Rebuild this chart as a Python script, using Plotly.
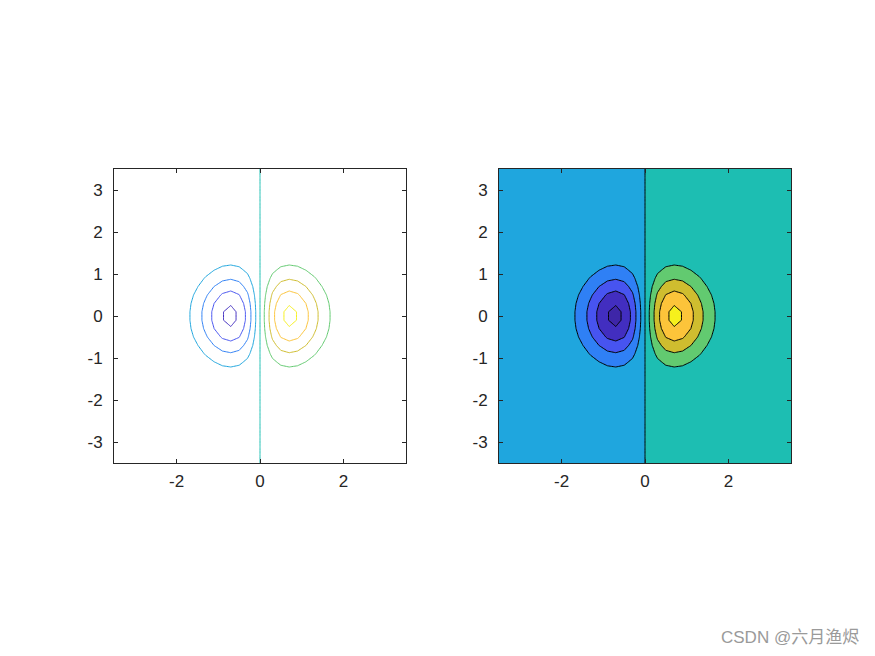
import plotly.graph_objects as go

# Grid coordinates (x = y = -3.5:0.2:3.5)
x_vals = [-3.5, -3.3, -3.1, -2.9, -2.7, -2.5, -2.3, -2.1, -1.9, -1.7, -1.5, -1.3, -1.1, -0.9, -0.7, -0.5,
          -0.3, -0.1, 0.1, 0.3, 0.5, 0.7, 0.9, 1.1, 1.3, 1.5, 1.7, 1.9, 2.1, 2.3, 2.5, 2.7, 2.9, 3.1,
          3.3, 3.5]
y_vals = list(x_vals)

# Separable profiles of the surface: z[i][j] = row_profile[i] * col_profile[j]
col_profile = [-0.0000168, -0.0000614, -0.000208, -0.000646, -0.001842, -0.004826, -0.011597, -0.025526,
               -0.051399, -0.094479, -0.158099, -0.239876, -0.328017, -0.400372, -0.428838, -0.389400,
               -0.274179, -0.099005, 0.099005, 0.274179, 0.389400, 0.428838, 0.400372, 0.328017,
               0.239876, 0.158099, 0.094479, 0.051399, 0.025526, 0.011597, 0.004826, 0.001842,
               0.000646, 0.000208, 0.0000614, 0.0000168]
row_profile = [0.0000048, 0.0000186, 0.0000670, 0.000222, 0.000682, 0.001930, 0.005042, 0.012155,
               0.027052, 0.055576, 0.105399, 0.184520, 0.298197, 0.444858, 0.612626, 0.778801,
               0.913931, 0.990050, 0.990050, 0.913931, 0.778801, 0.612626, 0.444858, 0.298197,
               0.184520, 0.105399, 0.055576, 0.027052, 0.012155, 0.005042, 0.001930, 0.000682,
               0.000222, 0.0000670, 0.0000186, 0.0000048]

z_vals = [[r * c for c in col_profile] for r in row_profile]

levels = [-0.4, -0.3, -0.2, -0.1, 0.0, 0.1, 0.2, 0.3, 0.4]
line_colors = ["#422EC0", "#4754F0", "#2F80F5", "#1FA6DE", "#1DBEB2",
               "#62CA70", "#CFBD2F", "#FCC43A", "#F6F01C"]
# band colors: below first level, then one per level (lower bound colour)
band_colors = ["#3E26A8"] + line_colors

tick_font = dict(family="Liberation Sans, Arial, sans-serif", size=17, color="#262626")

fig = go.Figure()

# Left: contour lines
for lv, col in zip(levels, line_colors):
    fig.add_trace(go.Contour(
        x=x_vals, y=y_vals, z=z_vals,
        autocontour=False,
        contours=dict(start=lv, end=lv, size=0.1, coloring="none"),
        line=dict(color=col, width=1, smoothing=0),
        showscale=False, hoverinfo="skip",
        xaxis="x", yaxis="y",
    ))

# Right: filled contours
n = len(band_colors)
cscale = [[k / (n - 1), c] for k, c in enumerate(band_colors)]
fig.add_trace(go.Contour(
    x=x_vals, y=y_vals, z=z_vals,
    autocontour=False,
    contours=dict(start=levels[0], end=levels[-1], size=0.1, coloring="fill"),
    colorscale=cscale,
    line=dict(color="black", width=1, smoothing=0),
    showscale=False, hoverinfo="skip",
    xaxis="x2", yaxis="y2",
))

axis_common = dict(
    range=[-3.5, 3.5], showgrid=False, zeroline=False, automargin=False,
    showline=True, linecolor="#262626", linewidth=1, mirror="allticks",
    ticks="inside", ticklen=4, tickcolor="#262626", tickfont=tick_font,
)

OFF = 8  # page body margin
W, H = 875, 656
y0 = 1 - (463 - OFF) / H
y1 = 1 - (169 - OFF) / H
fig.update_layout(
    width=W, height=H,
    margin=dict(l=0, r=0, t=0, b=0, autoexpand=False),
    paper_bgcolor="white", plot_bgcolor="white",
    showlegend=False,
    xaxis=dict(domain=[(114 - OFF) / W, (406 - OFF) / W], anchor="y", tickvals=[-2, 0, 2],
               ticktext=["-2", "0", "2"], ticklabelstandoff=3, **axis_common),
    yaxis=dict(domain=[y0, y1], anchor="x", tickvals=[-3, -2, -1, 0, 1, 2, 3],
               ticktext=["-3", "-2", "-1", "0", "1", "2", "3"], ticklabelstandoff=7, **axis_common),
    xaxis2=dict(domain=[(499 - OFF) / W, (791 - OFF) / W], anchor="y2", tickvals=[-2, 0, 2],
                ticktext=["-2", "0", "2"], ticklabelstandoff=3, **axis_common),
    yaxis2=dict(domain=[y0, y1], anchor="x2", tickvals=[-3, -2, -1, 0, 1, 2, 3],
                ticktext=["-3", "-2", "-1", "0", "1", "2", "3"], ticklabelstandoff=7, **axis_common),
    annotations=[dict(
        text="CSDN @六月渔烬", xref="paper", yref="paper",
        x=(861 - OFF) / W, y=1 - (637 - OFF) / H, xanchor="right", yanchor="middle",
        showarrow=False,
        font=dict(family="Liberation Sans, Noto Sans CJK SC, sans-serif", size=17, color="#9A9A9A"),
    )],
)

fig.write_html("out.html")
